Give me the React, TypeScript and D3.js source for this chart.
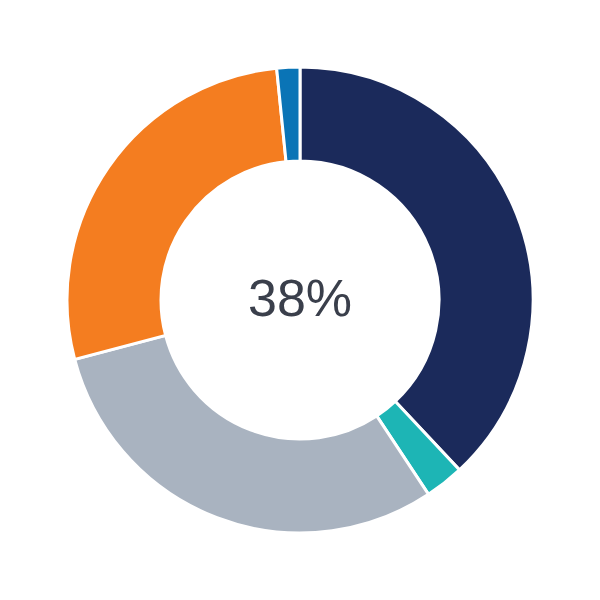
import { useEffect, useRef } from "react";
import * as d3 from "d3";

const labels = ["A", "B", "C", "D", "E"];
const values = [38, 2.7, 30.2, 27.5, 1.6];
const colors = ["#1b2a5b", "#1db5b5", "#a9b3c0", "#f47d20", "#0a74b6"];
const centerLabel = "38%";

export default function App() {
  const ref = useRef<SVGSVGElement>(null);

  useEffect(() => {
    if (!ref.current) return;
    const width = 600;
    const height = 600;
    const outer = 233;
    const inner = 139;

    const svg = d3.select(ref.current);
    svg.selectAll("*").remove();

    const g = svg.append("g").attr("transform", `translate(${width / 2},${height / 2})`);

    const data = labels.map((l, i) => ({ label: l, value: values[i], color: colors[i] }));
    const pie = d3.pie<any>().value((d) => d.value).sort(null);
    const arc = d3.arc<any>().innerRadius(inner).outerRadius(outer);

    g.selectAll("path")
      .data(pie(data))
      .enter()
      .append("path")
      .attr("d", arc as any)
      .attr("fill", (d) => d.data.color)
      .attr("stroke", "#ffffff")
      .attr("stroke-width", 3)
      .attr("stroke-linejoin", "miter");

    g.append("text")
      .attr("x", 0)
      .attr("y", 16)
      .attr("text-anchor", "middle")
      .attr("font-family", "'Liberation Sans', Arial, sans-serif")
      .attr("font-size", 52)
      .attr("fill", "#3a3f4b")
      .text(centerLabel);
  }, []);

  return (
    <svg
      ref={ref}
      width={600}
      height={600}
      style={{ position: "absolute", left: 0, top: 0, background: "#ffffff" }}
    />
  );
}
